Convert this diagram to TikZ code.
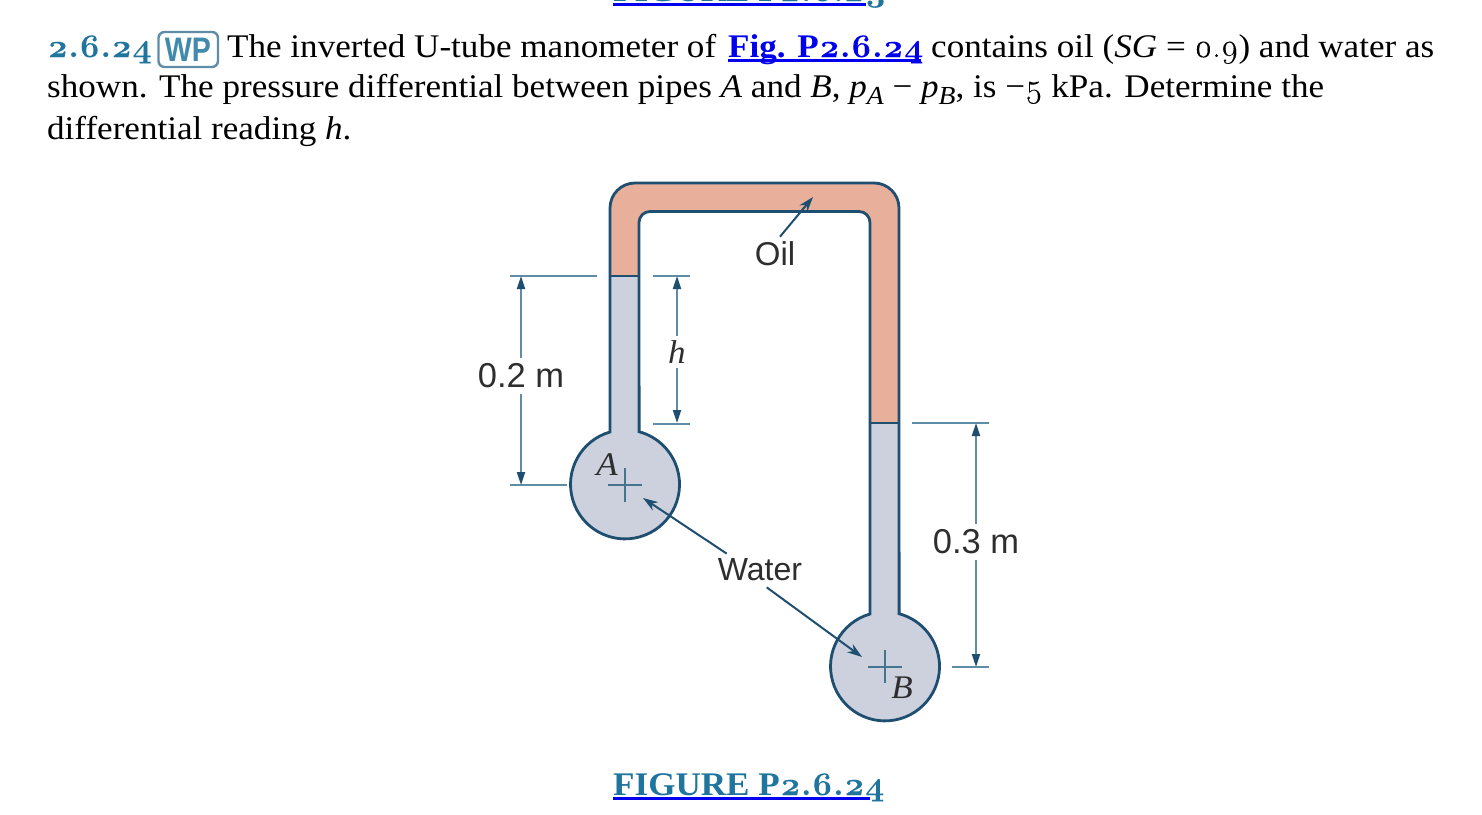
\documentclass[tikz,border=0pt]{standalone}
\usepackage{fontspec}
\usetikzlibrary{arrows.meta}
\setmainfont{Liberation Serif}[FakeStretch=1.063]
\setsansfont{Liberation Sans}
\newfontfamily\onum{Latin Modern Roman}[Numbers=OldStyle,FakeStretch=1.03,FakeBold=0.25,BoldFeatures={FakeBold=0.01}]
\newfontfamily\badgefont{Liberation Sans}[FakeStretch=0.84]
\definecolor{tealtxt}{HTML}{1F759E}
\definecolor{linkblue}{HTML}{0000EE}
\definecolor{pipeline}{HTML}{1F4F70}
\definecolor{dimline}{HTML}{5F8CA6}
\definecolor{oilfill}{HTML}{E8B09A}
\definecolor{waterfill}{HTML}{CDD1DD}
\definecolor{labeltxt}{HTML}{2E2E2E}
\newcommand{\lowsub}[1]{\raisebox{-0.22em}{\fontsize{26}{26}\selectfont\textit{#1}}}
\tikzset{
  bodytext/.style={anchor=base west,inner sep=0pt,font=\fontsize{33}{36}\selectfont},
  linktext/.style={anchor=base west,inner sep=0pt,font=\fontsize{33}{36}\selectfont\bfseries,text=linkblue},
  headtext/.style={anchor=base west,inner sep=0pt,font=\fontsize{33}{36}\selectfont\bfseries,text=tealtxt},
  sizelabel/.style={inner sep=1pt,font=\sffamily\fontsize{34.5}{36}\selectfont,text=labeltxt},
  letterlabel/.style={inner sep=0pt,font=\fontsize{33}{36}\selectfont\itshape,text=labeltxt},
  pipewall/.style={draw=pipeline,line width=2.8pt},
  dimension/.style={draw=dimline,line width=2pt},
  dimarrow/.style={dimension,-{Triangle[length=13pt,width=8pt,color=pipeline]}},
  callout/.style={draw=pipeline,line width=2pt,-{Stealth[length=15pt,width=10pt]}},
  crossmark/.style={draw=dimline!60!pipeline,line width=1.8pt},
}
\begin{document}
\begin{tikzpicture}[x=1pt,y=-1pt]
\useasboundingbox (0,0) rectangle (1482,814);
\fill[white] (0,0) rectangle (1482,814);
%text above the picture
\node[headtext] (topcap) at (613,1) {FIGURE P{\onum 2.6.23}};
\draw[linkblue,line width=3pt] (613,4) -- (866,4);
\node[headtext] (num) at (47,57) {\onum 2.6.24};
\draw[draw=dimline,fill=white,line width=2.4pt,rounded corners=6pt] (158.5,32) rectangle (218,67);
\node[inner sep=0pt,font=\badgefont\bfseries\fontsize{34}{36}\selectfont,text=tealtxt!85!white] (badge) at (188,49.5) {WP};
\node[bodytext] (lineA) at (227,57) {The inverted U-tube manometer of};
\node[linktext] (fig) at (728,57) {Fig. P{\onum 2.6.24}};
\draw[linkblue,line width=3pt] (728,60) -- (921,60);
\node[bodytext] (lineB) at (931,57) {contains oil (\textit{SG} = {\onum 0.9}) and water as};
\node[bodytext] (lineC) at (47,97) {shown. The pressure differential between pipes \textit{A} and \textit{B}, \textit{p}\lowsub{A} − \textit{p}\lowsub{B}, is −{\onum 5} kPa. Determine the};
\node[bodytext] (lineD) at (47,139) {differential reading \textit{h}.};
%water, left side
\filldraw[fill=waterfill,pipewall] (610,276) -- (610,432) arc (254:-75:54.5) -- (639,276);
\draw[crossmark] (608,485) -- (642,485) (625,468) -- (625,502);
%water, right side
\filldraw[fill=waterfill,pipewall] (870,423) -- (870,614) arc (254:-75:54.5) -- (899,423);
\draw[crossmark] (868,667) -- (902,667) (885,650) -- (885,683);
%oil
\filldraw[fill=oilfill,draw=none] (610,276) [rounded corners=25pt] -- (610,183) -- (899,183) [rounded corners=0pt] -- (899,423) -- (870,423) [rounded corners=11pt] -- (870,211.5) -- (639,211.5) [rounded corners=0pt] -- (639,276) -- cycle;
\draw[pipewall,rounded corners=25pt] (610,276) -- (610,183) -- (899,183) -- (899,423);
\draw[pipewall,rounded corners=11pt] (639,276) -- (639,211.5) -- (870,211.5) -- (870,423);
\draw[draw=pipeline,line width=1.6pt] (610,276) -- (639,276);
\draw[draw=pipeline,line width=1.6pt] (870,423) -- (899,423);
%dimension lines
\coordinate (aTop) at (521,276);
\coordinate (aLow) at (521,485);
\coordinate (hTop) at (677,276);
\coordinate (hLow) at (677,423);
\coordinate (bTop) at (976,423);
\coordinate (bLow) at (976,667);
\draw[dimension] (510,276) -- (597,276);
\draw[dimension] (510,485) -- (567,485);
\draw[dimension] (653,276) -- (690,276);
\draw[dimension] (653,423.5) -- (690,423.5);
\draw[dimension] (912,423) -- (989,423);
\draw[dimension] (952,667) -- (989,667);
\node[sizelabel,inner ysep=6pt] (dimA) at (521,376) {0.2 m};
\node[letterlabel,inner sep=4pt] (dimH) at (677,352) {h};
\node[sizelabel,inner ysep=6pt] (dimB) at (976,542) {0.3 m};
\draw[dimarrow] (dimA) -- (aTop);
\draw[dimarrow] (dimA) -- (aLow);
\draw[dimarrow] (dimH) -- (hTop);
\draw[dimarrow] (dimH) -- (hLow);
\draw[dimarrow] (dimB) -- (bTop);
\draw[dimarrow] (dimB) -- (bLow);
%fluid labels
\node[sizelabel,font=\sffamily\fontsize{33}{36}\selectfont] (oil) at (775,254) {Oil};
\node[sizelabel,font=\sffamily\fontsize{32}{36}\selectfont] (water) at (760,570) {Water};
\coordinate (oilTip) at (813,197);
\coordinate (tipA) at (643,498);
\coordinate (tipB) at (862,657);
\draw[callout] ([shift={(5,-4)}]oil.north) -- (oilTip);
\draw[callout] ([shift={(10,-4)}]water.north west) -- (tipA);
\draw[callout] ([shift={(50,5)}]water.south west) -- (tipB);
\node[letterlabel] (pipeA) at (607,465) {A};
\node[letterlabel] (pipeB) at (902,688) {B};
%caption
\node[headtext] (cap) at (613,795) {FIGURE P{\onum 2.6.24}};
\draw[linkblue,line width=3pt] (613,798.5) -- (870,798.5);
\end{tikzpicture}
\end{document}
